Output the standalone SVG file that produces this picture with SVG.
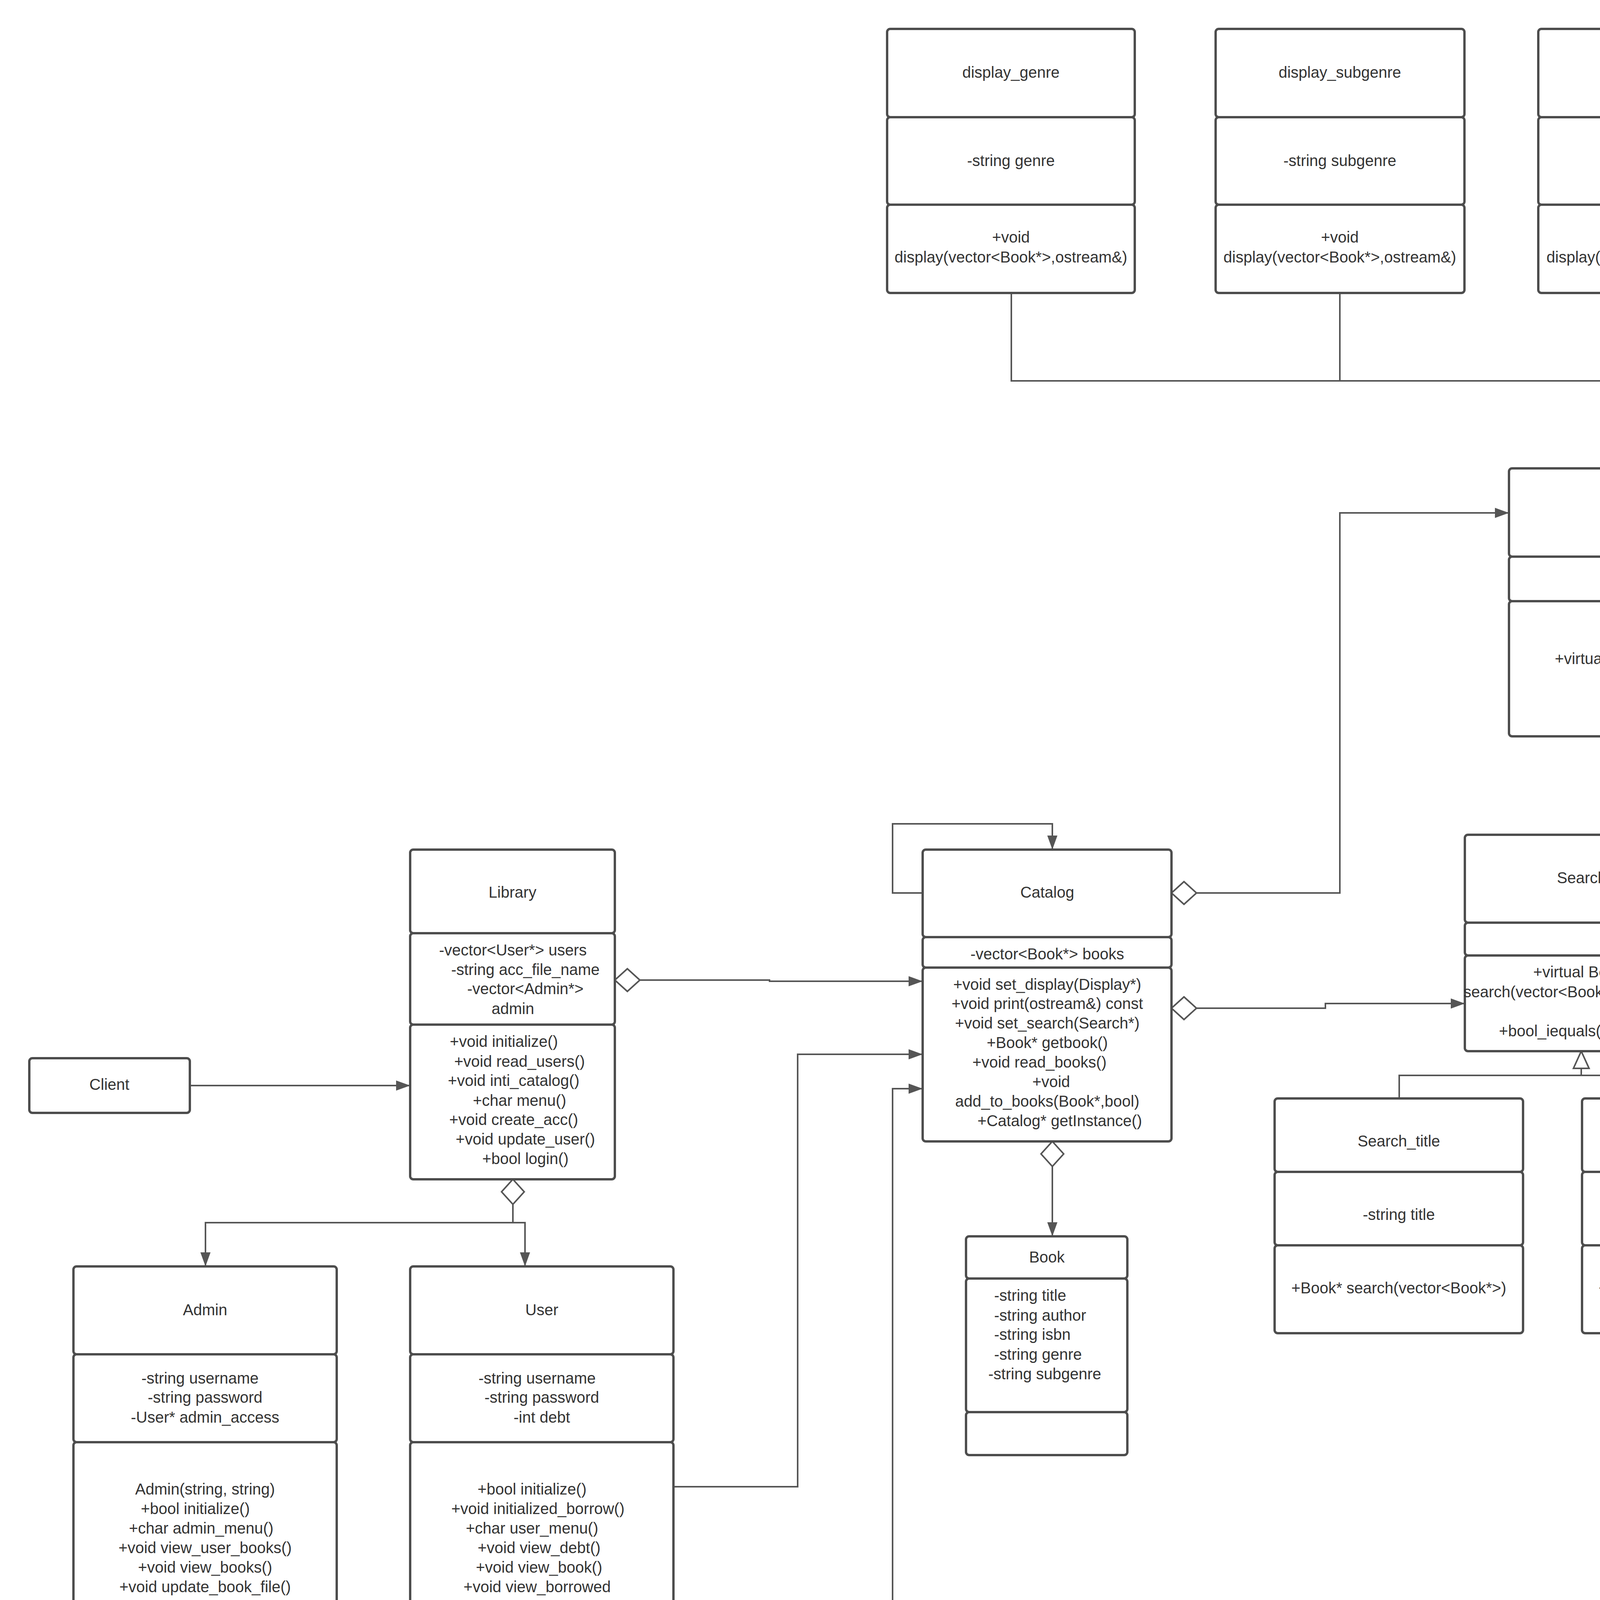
<svg xmlns="http://www.w3.org/2000/svg" width="5663" height="4594" viewBox="0 0 5663 4594">
<style>
.b{fill:#fff;stroke:#4d4d4d;stroke-width:6}
.l{fill:none;stroke:#555;stroke-width:4}
text{font-family:"Liberation Sans",Arial,sans-serif;font-size:40px;fill:#333;text-anchor:middle;dominant-baseline:central}
.s{text-anchor:start}
</style>
<defs>
<marker id="a" markerUnits="userSpaceOnUse" markerWidth="40" markerHeight="30" refX="36" refY="15" orient="auto"><path d="M0,2 L36,15 L0,28 Z" fill="#555"/></marker>
<marker id="d" markerUnits="userSpaceOnUse" markerWidth="72" markerHeight="64" refX="3" refY="32" orient="auto"><path d="M3,32 L35,3 L67,32 L35,61 Z" fill="#fff" stroke="#555" stroke-width="4"/></marker>
<marker id="t" markerUnits="userSpaceOnUse" markerWidth="50" markerHeight="50" refX="46" refY="25" orient="auto"><path d="M2,5 L46,25 L2,45 Z" fill="#fff" stroke="#555" stroke-width="4"/></marker>
</defs>
<rect width="5663" height="4594" fill="#fff"/>
<g id="connectors">
<path class="l" d="M2589,750 V975 H5156 V750 M3430,750 V975 M4257,750 V975 M4424,975 V1199" marker-end="url(#t)"/>
<path class="l" d="M4048,2753 H3582 V2812 M4048,2753 H5267 V2812 M4369,2753 V2812 M4048,2753 V2691" marker-end="url(#t)"/>
<path class="l" d="M486,2779 H1050" marker-end="url(#a)"/>
<path class="l" d="M1574,2509 H1970 V2512 H2362" marker-start="url(#d)" marker-end="url(#a)"/>
<path class="l" d="M2362,2286 H2285 V2109 H2694 V2175" marker-end="url(#a)"/>
<path class="l" d="M2999,2286 H3430 V1313 H3863" marker-start="url(#d)" marker-end="url(#a)"/>
<path class="l" d="M2999,2581 H3393 V2569 H3750" marker-start="url(#d)" marker-end="url(#a)"/>
<path class="l" d="M2694,2922 V3165" marker-start="url(#d)" marker-end="url(#a)"/>
<path class="l" d="M1313,3019 V3130 H526 V3242" marker-start="url(#d)" marker-end="url(#a)"/>
<path class="l" d="M1313,3130 H1344 V3242" marker-end="url(#a)"/>
<path class="l" d="M1724,3806 H2042 V2699 H2362" marker-end="url(#a)"/>
<path class="l" d="M526,4437 V4515 H2285 V2787 H2362" marker-start="url(#d)" marker-end="url(#a)"/>
</g>
<g id="display_genre"><rect class="b" x="2271" y="74" width="634" height="226" rx="8"/><rect class="b" x="2271" y="300" width="634" height="224" rx="8"/><rect class="b" x="2271" y="524" width="634" height="226" rx="8"/>
<text x="2588" y="185">display_genre</text><text x="2588" y="411">-string genre</text><text x="2588" y="607">+void</text><text x="2588" y="658">display(vector&lt;Book*&gt;,ostream&amp;)</text></g>
<g id="display_subgenre"><rect class="b" x="3112" y="74" width="637" height="226" rx="8"/><rect class="b" x="3112" y="300" width="637" height="224" rx="8"/><rect class="b" x="3112" y="524" width="637" height="226" rx="8"/>
<text x="3430" y="185">display_subgenre</text><text x="3430" y="411">-string subgenre</text><text x="3430" y="607">+void</text><text x="3430" y="658">display(vector&lt;Book*&gt;,ostream&amp;)</text></g>
<g id="display_title"><rect class="b" x="3938" y="74" width="637" height="226" rx="8"/><rect class="b" x="3938" y="300" width="637" height="224" rx="8"/><rect class="b" x="3938" y="524" width="637" height="226" rx="8"/>
<text x="4257" y="185">display_title</text><text x="4257" y="411">-string title</text><text x="4257" y="607">+void</text><text x="4257" y="658">display(vector&lt;Book*&gt;,ostream&amp;)</text></g>
<g id="display_author"><rect class="b" x="4840" y="74" width="634" height="226" rx="8"/><rect class="b" x="4840" y="300" width="634" height="224" rx="8"/><rect class="b" x="4840" y="524" width="634" height="226" rx="8"/>
<text x="5157" y="185">display_author</text><text x="5157" y="411">-string author</text><text x="5157" y="607">+void</text><text x="5157" y="658">display(vector&lt;Book*&gt;,ostream&amp;)</text></g>
<g id="Display"><rect class="b" x="3863" y="1199" width="1125" height="226" rx="8"/><rect class="b" x="3863" y="1425" width="1125" height="114" rx="8"/><rect class="b" x="3863" y="1539" width="1125" height="346" rx="8"/>
<text x="4425" y="1313">Display</text><text x="4425" y="1686">+virtual void display(vector&lt;Book*&gt;,ostream&amp;) = 0</text><text x="4435" y="1735">+bool_iequals(string,string)</text></g>
<g id="Search"><rect class="b" x="3750" y="2137" width="598" height="225" rx="8"/><rect class="b" x="3750" y="2362" width="598" height="84" rx="8"/><rect class="b" x="3750" y="2446" width="598" height="245" rx="8"/>
<text x="4049" y="2247">Search</text><text x="4049" y="2488">+virtual Book*</text><text x="3985" y="2539">search(vector&lt;Book*&gt;) = 0</text><text x="4078" y="2639">+bool_iequals(string,string)</text></g>
<g id="Search_title"><rect class="b" x="3263" y="2812" width="636" height="188" rx="8"/><rect class="b" x="3263" y="3000" width="636" height="188" rx="8"/><rect class="b" x="3263" y="3188" width="636" height="225" rx="8"/>
<text x="3581" y="2921">Search_title</text><text x="3581" y="3109">-string title</text><text x="3581" y="3297">+Book* search(vector&lt;Book*&gt;)</text></g>
<g id="Search_ISBN"><rect class="b" x="4050" y="2812" width="636" height="188" rx="8"/><rect class="b" x="4050" y="3000" width="636" height="188" rx="8"/><rect class="b" x="4050" y="3188" width="636" height="225" rx="8"/>
<text x="4368" y="2921">Search_ISBN</text><text x="4368" y="3087">-string isbn</text><text x="4368" y="3297">+Book* search(vector&lt;Book*&gt;)</text></g>
<g id="Search_Author"><rect class="b" x="4950" y="2812" width="636" height="208" rx="8"/><rect class="b" x="4950" y="3020" width="636" height="168" rx="8"/><rect class="b" x="4950" y="3188" width="636" height="225" rx="8"/>
<text x="5268" y="2921">Search_Author</text><text x="5268" y="3106">-string author</text><text x="5268" y="3297">+Book* search(vector&lt;Book*&gt;)</text></g>
<g id="Client"><rect class="b" x="75" y="2709" width="411" height="140" rx="8"/><text x="280" y="2776">Client</text></g>
<g id="Library"><rect class="b" x="1050" y="2175" width="524" height="214" rx="8"/><rect class="b" x="1050" y="2389" width="524" height="234" rx="8"/><rect class="b" x="1050" y="2623" width="524" height="396" rx="8"/>
<text x="1312" y="2284">Library</text>
<text x="1313" y="2432">-vector&lt;User*&gt; users</text><text x="1345" y="2482">-string acc_file_name</text><text x="1345" y="2531">-vector&lt;Admin*&gt;</text><text x="1313" y="2582">admin</text>
<text x="1290" y="2666">+void initialize()</text><text x="1330" y="2717">+void read_users()</text><text x="1315" y="2766">+void  inti_catalog()</text><text x="1330" y="2817">+char menu()</text><text x="1315" y="2866">+void create_acc()</text><text x="1345" y="2916">+void update_user()</text><text x="1345" y="2966">+bool login()</text></g>
<g id="Catalog"><rect class="b" x="2362" y="2175" width="637" height="224" rx="8"/><rect class="b" x="2362" y="2399" width="637" height="78" rx="8"/><rect class="b" x="2362" y="2477" width="637" height="445" rx="8"/>
<text x="2681" y="2284">Catalog</text><text x="2681" y="2442">-vector&lt;Book*&gt; books</text>
<text x="2681" y="2520">+void set_display(Display*)</text><text x="2681" y="2569">+void print(ostream&amp;) const</text><text x="2681" y="2619">+void set_search(Search*)</text><text x="2681" y="2669">+Book* getbook()</text><text x="2661" y="2719">+void read_books()</text><text x="2691" y="2769">+void</text><text x="2681" y="2819">add_to_books(Book*,bool)</text><text x="2713" y="2869">+Catalog* getInstance()</text></g>
<g id="Book"><rect class="b" x="2473" y="3165" width="413" height="108" rx="8"/><rect class="b" x="2473" y="3273" width="413" height="342" rx="8"/><rect class="b" x="2473" y="3615" width="413" height="110" rx="8"/>
<text x="2680" y="3218">Book</text><text class="s" x="2545" y="3316">-string title</text><text class="s" x="2545" y="3367">-string author</text><text class="s" x="2545" y="3416">-string isbn</text><text class="s" x="2545" y="3467">-string genre</text><text class="s" x="2530" y="3517">-string subgenre</text></g>
<g id="Admin"><rect class="b" x="188" y="3242" width="674" height="225" rx="8"/><rect class="b" x="188" y="3467" width="674" height="225" rx="8"/><rect class="b" x="188" y="3692" width="674" height="745" rx="8"/>
<text x="525" y="3353">Admin</text><text x="512" y="3528">-string username</text><text x="525" y="3577">-string password</text><text x="525" y="3628">-User* admin_access</text>
<text x="525" y="3812">Admin(string, string)</text><text x="500" y="3862">+bool initialize()</text><text x="515" y="3912">+char admin_menu()</text><text x="525" y="3962">+void view_user_books()</text><text x="525" y="4012">+void view_books()</text><text x="525" y="4062">+void update_book_file()</text><text x="525" y="4112">+void borrow_user_book(string,</text><text x="480" y="4162">string, string)</text><text x="525" y="4212">+string get_username()</text><text x="525" y="4262">+string get_password()</text><text x="525" y="4312">void printBook(string, string)</text></g>
<g id="User"><rect class="b" x="1050" y="3242" width="674" height="225" rx="8"/><rect class="b" x="1050" y="3467" width="674" height="225" rx="8"/><rect class="b" x="1050" y="3692" width="674" height="745" rx="8"/>
<text x="1387" y="3353">User</text><text x="1375" y="3528">-string username</text><text x="1387" y="3577">-string password</text><text x="1387" y="3628">-int debt</text>
<text x="1362" y="3812">+bool initialize()</text><text x="1377" y="3862">+void initialized_borrow()</text><text x="1362" y="3912">+char user_menu()</text><text x="1380" y="3962">+void view_debt()</text><text x="1380" y="4012">+void view_book()</text><text x="1375" y="4062">+void view_borrowed</text><text x="1377" y="4112">+void update_book_file()</text><text x="1375" y="4162">+void borrow_menu</text><text x="1387" y="4212">+void borrow_title(istream&amp;)</text><text x="1387" y="4262">+void borrow_author(istream&amp;)</text><text x="1387" y="4312">+void borrow_isbn(istream&amp;)</text></g>
</svg>
